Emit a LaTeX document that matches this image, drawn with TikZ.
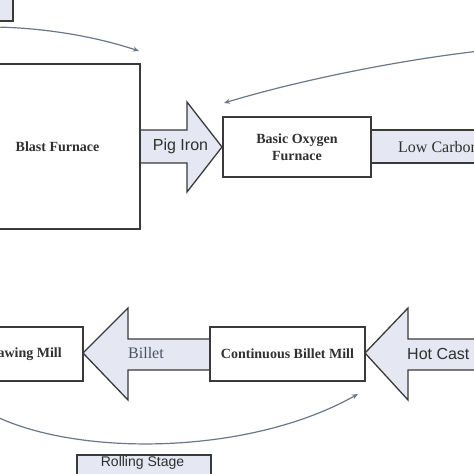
\documentclass[tikz,border=0pt]{standalone}
\usepackage{fontspec}
\setmainfont{Liberation Serif}
\newfontfamily\arialfont{Liberation Sans}
\usetikzlibrary{arrows.meta}
\definecolor{fillc}{HTML}{E5E8F3}
\definecolor{linec}{HTML}{3A3A3A}
\definecolor{curvec}{HTML}{6B7889}
\definecolor{textc}{HTML}{303030}
\definecolor{billetc}{HTML}{4A5264}
\begin{document}
\begin{tikzpicture}[x=1pt,y=-1pt,
  box/.style={draw=linec, line width=1.3pt, fill=white, inner sep=0pt, align=center,
    text=textc, font=\bfseries\fontsize{14}{17}\selectfont},
  blk/.style={draw=linec, line width=1.3pt, fill=fillc, line join=miter},
  lbl/.style={draw=linec, line width=1.3pt, fill=fillc, inner sep=0pt, text=textc,
    font=\arialfont\fontsize{14}{16}\selectfont},
  sanst/.style={text=textc, inner sep=0pt, font=\arialfont\fontsize{16}{18}\selectfont},
  serift/.style={text=textc, inner sep=0pt, font=\fontsize{16}{18}\selectfont},
  flow/.style={draw=curvec, line width=1.2pt, -{Stealth[length=6pt,width=5pt]}}]
\useasboundingbox (0,0) rectangle (474,474);
\clip (0,0) rectangle (474,474);
\fill[white] (0,0) rectangle (474,474);

% block arrows
\draw[blk] (140,130) -- (187,130) -- (187,102) -- (222,147) -- (187,192) -- (187,163) -- (140,163) -- cycle;
\draw[blk] (371,130) -- (490,130) -- (490,163) -- (371,163) -- cycle;
\draw[blk] (83,353) -- (128,308) -- (128,339) -- (210,339) -- (210,370) -- (128,370) -- (128,400) -- cycle;
\draw[blk] (365,353) -- (408,308) -- (408,339) -- (490,339) -- (490,370) -- (408,370) -- (408,400) -- cycle;

% boxes
\node[lbl, minimum width=60pt, minimum height=26pt] (top) at (-17,8) {};
\node[box, minimum width=165pt, minimum height=165pt] (bf) at (57.5,146.5) {Blast Furnace};
\node[box, minimum width=148pt, minimum height=60pt] (bof) at (297,147) {Basic Oxygen\\Furnace};
\node[box, minimum width=123pt, minimum height=54pt] (dm) at (21.5,354) {Drawing Mill};
\node[box, minimum width=155pt, minimum height=54pt] (cbm) at (287.5,354) {Continuous Billet Mill};
\node[lbl, minimum width=134pt, minimum height=21pt] (rs) at (144,465.5) {};
\node[text=textc, inner sep=0pt, font=\arialfont\fontsize{14}{16}\selectfont] (rst) at (142.5,463) {Rolling Stage};

% arrow labels
\node[sanst] (pig) at (180.5,146) {Pig Iron};
\node[serift, anchor=west] (lc) at (398,147) {Low Carbon Steel};
\node[serift, text=billetc] (bil) at (146,353) {Billet};
\node[sanst, anchor=west] (hcs) at (407,354) {Hot Cast Steel};

% curved connectors
\coordinate (c1s) at (-5,27);
\coordinate (c1e) at (139,51);
\draw[flow] (c1s) .. controls (50,28) and (100,38) .. (c1e);
\coordinate (c2s) at (480,51);
\coordinate (c2e) at (224,103);
\draw[flow] (c2s) .. controls (400,60) and (300,80) .. (c2e);
\coordinate (c3s) at (-5,416);
\coordinate (c3e) at (358,394);
\draw[flow] (c3s) .. controls (80,457) and (250,455) .. (c3e);
\end{tikzpicture}
\end{document}
